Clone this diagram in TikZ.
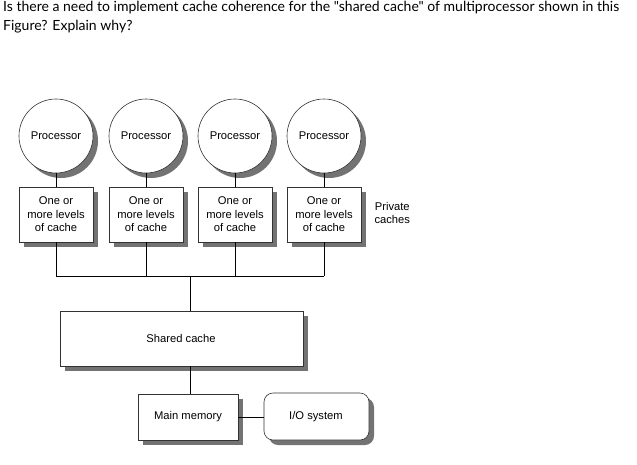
\documentclass[tikz,border=0pt]{standalone}
\usepackage{fontspec}
\setmainfont{Liberation Sans}
\newfontfamily\qfont{Lato}
\usetikzlibrary{positioning}
\begin{document}
\begin{tikzpicture}[x=1pt,y=-1pt,
    shad/.style={fill=black!55,draw=none},
    box/.style={draw=black!80,fill=white,line width=.6pt},
    txt/.style={font=\fontsize{11.2}{13.5}\selectfont,align=center}]
    \useasboundingbox (0,0) rectangle (637,464);
    % Question
    \node[anchor=north west,align=left,font=\qfont\fontsize{14}{19}\selectfont,inner sep=0] (q) at (3,1)
    {Is there a need to implement cache coherence for the "shared cache" of multiprocessor shown in this\\Figure? Explain why?};
    % Processors and private caches
    \foreach \i/\x in {1/56,2/146,3/235,4/324} {
      \fill[shad] (\x+5,141) circle (37);
      \draw[box] (\x,136) circle (37);
      \node[txt] (p\i) at (\x,136) {Processor};
      \fill[shad] (\x-37+5,192) rectangle (\x+37+5,247);
      \draw[box] (\x-37,187) rectangle (\x+37,242);
      \node[txt] (c\i) at (\x,214.5) {One or\\more levels\\of cache};
      \draw (\x,173) -- (\x,187);
      \draw (\x,242) -- (\x,276);
    }
    \node[txt,anchor=west] (priv) at (371,213) {Private\\caches};
    \draw (56,276) -- (324,276);
    \draw (190,276) -- (190,311);
    % Shared cache
    \fill[shad] (65,316) rectangle (308,371);
    \draw[box] (60,311) rectangle (303,366);
    \node[txt] (sc) at (181,338) {Shared cache};
    \draw (190,366) -- (190,394);
    % Memory and I/O
    \fill[shad] (143,399) rectangle (243,445);
    \draw[box] (138,394) rectangle (238,440);
    \node[txt] (mm) at (188,417) {Main memory};
    \fill[shad,rounded corners=9pt] (269,398) rectangle (374,445);
    \draw[box,rounded corners=9pt] (264,393) rectangle (369,440);
    \node[txt] (io) at (316,417) {I/O system};
    \draw (238,417) -- (264,417);
\end{tikzpicture}
\end{document}
